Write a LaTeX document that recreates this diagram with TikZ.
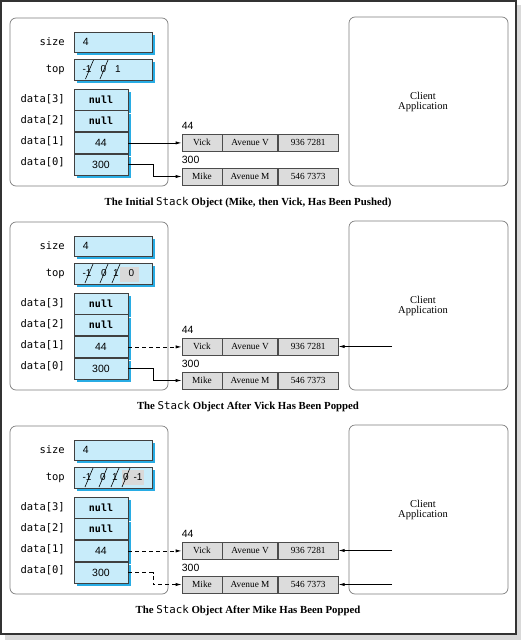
\documentclass[tikz,border=0pt]{standalone}
\usepackage{fontspec}
\setmainfont{Liberation Serif}
\setsansfont{Liberation Sans}
\setmonofont{DejaVu Sans Mono}
\usetikzlibrary{positioning,arrows.meta,shadows}
\definecolor{cellblue}{RGB}{200,236,250}
\definecolor{shadeblue}{RGB}{40,172,228}
\definecolor{recgrey}{RGB}{220,220,220}
\definecolor{framegrey}{RGB}{125,125,125}
\tikzset{>={Latex[length=6pt,width=3.2pt]}}
\tikzset{
  cell/.style={draw=black!75, fill=cellblue, line width=0.7pt, inner sep=0pt,
    drop shadow={shadow xshift=3pt, shadow yshift=-3pt, fill=shadeblue, opacity=1},
    font=\sffamily\fontsize{10.5}{12}\selectfont},
  nullval/.style={font=\ttfamily\bfseries\fontsize{10}{12}\selectfont},
  lbl/.style={anchor=east, inner sep=0pt, font=\ttfamily\fontsize{10.5}{12}\selectfont},
  val/.style={inner sep=0pt, font=\sffamily\fontsize{10.5}{12}\selectfont},
  topval/.style={inner sep=0pt, font=\sffamily\fontsize{10}{12}\selectfont},
  rec/.style={draw=black!70, fill=recgrey, line width=0.6pt, minimum height=17pt,
    inner sep=0pt, font=\fontsize{9.3}{11}\selectfont},
  panel/.style={draw=framegrey, line width=0.7pt, rounded corners=6pt},
  client/.style={align=center, font=\fontsize{10.5}{10}\selectfont},
  caption/.style={font=\bfseries\fontsize{10.8}{12}\selectfont},
  ptr/.style={->, line width=0.8pt},
  dptr/.style={ptr, dash pattern=on 4pt off 3pt},
  hilite/.style={fill=black!15},
}

\begin{document}
\begin{tikzpicture}[x=1pt,y=-1pt]
\useasboundingbox (0,0) rectangle (521,640);
% frame round everything
\fill[black!15] (5,634) rectangle (521,640);
\fill[black!15] (516,5) rectangle (521,640);
\draw[black!80, line width=1.2pt] (1,1) rectangle (516,634);

% parts that every panel has
\foreach \i/\off in {1/0,2/204,3/408}{
  \draw[panel] (10,18+\off) rectangle (168,186+\off);
  \draw[panel] (349,17+\off) rectangle (508,186+\off);
  \node[client] (client\i) at (423,102+\off) {Client\\Application};
  % size and top
  \node[cell, minimum width=78pt, minimum height=20pt] (size\i) at (113,42+\off) {};
  \node[val, right=9pt of size\i.west] (sizev\i) {4};
  \node[lbl] (lsize\i) at (65,42+\off) {size};
  \node[cell, minimum width=78pt, minimum height=21pt] (top\i) at (113,69.5+\off) {};
  \node[lbl] (ltop\i) at (65,69.5+\off) {top};
  % the array
  \node[cell, minimum width=54pt, minimum height=21pt] (d3\i) at (101,99.5+\off) {};
  \node[cell, minimum width=54pt, minimum height=21pt, below=0pt of d3\i] (d2\i) {};
  \node[cell, minimum width=54pt, minimum height=21pt, below=0pt of d2\i] (d1\i) {44};
  \node[cell, minimum width=54pt, minimum height=21pt, below=0pt of d1\i] (d0\i) {300};
  \node[nullval] at (d3\i) {null};
  \node[nullval] at (d2\i) {null};
  \foreach \k in {3,2,1,0}
    \node[lbl] (ld\k\i) at (65,{162.5-21*\k+\off}) {data[\k]};
  % the two records
  \node[rec, minimum width=40pt] (vn\i) at (202,142.5+\off) {Vick};
  \node[rec, minimum width=55pt, right=0pt of vn\i] (va\i) {Avenue V};
  \node[rec, minimum width=60pt, right=0pt of va\i] (vp\i) {936 7281};
  \node[rec, minimum width=40pt] (mn\i) at (202,176.5+\off) {Mike};
  \node[rec, minimum width=55pt, right=0pt of mn\i] (ma\i) {Avenue M};
  \node[rec, minimum width=60pt, right=0pt of ma\i] (mp\i) {546 7373};
  \node[val, anchor=south west] (vaddr\i) at ([yshift=4pt]vn\i.north west) {44};
  \node[val, anchor=south west] (maddr\i) at ([yshift=4pt]mn\i.north west) {300};
  \coordinate (cv\i) at (392,142.5+\off);
  \coordinate (cm\i) at (392,176.5+\off);
}

% values of top
\fill[hilite] (119.5,267) rectangle (139,282);
\fill[hilite] (121.5,470) rectangle (144,485);
\foreach \x/\v in {87/-1,103.5/0,118/1}
  \node[topval] at (\x,69.5) {\v};
\foreach \x/\v in {87/-1,104/0,116/1,131.5/0}
  \node[topval] at (\x,273.5) {\v};
\foreach \x/\v in {87/-1,103/0,115/1,126/0,138/-1}
  \node[topval] at (\x,477.5) {\v};
\foreach \x in {89.5,104}
  \draw[line width=0.6pt] (\x-4,79) -- (\x+4,60);
\foreach \x in {89,104,116}
  \draw[line width=0.6pt] (\x-4,283) -- (\x+4,264);
\foreach \x in {89,103,115,126}
  \draw[line width=0.6pt] (\x-4,487) -- (\x+4,468);

% pointers
\draw[ptr] (d11.east) -- (d11.east -| vn1.west);
\draw[ptr] (d01.east) -- ++(24.7,0) |- (mn1.west);
\draw[dptr] (d12.east) -- (d12.east -| vn2.west);
\draw[ptr] (d02.east) -- ++(24.7,0) |- (mn2.west);
\draw[ptr] (cv2) -- (vp2.east);
\draw[dptr] (d13.east) -- (d13.east -| vn3.west);
\draw[dptr] (d03.east) -- ++(24.7,0) |- (mn3.west);
\draw[ptr] (cv3) -- (vp3.east);
\draw[ptr] (cm3) -- (mp3.east);

% captions
\node[caption] (cap1) at (248,203) {The Initial \texttt{\mdseries Stack} Object (Mike, then Vick, Has Been Pushed)};
\node[caption] (cap2) at (248,407) {The \texttt{\mdseries Stack} Object After Vick Has Been Popped};
\node[caption] (cap3) at (248,611) {The \texttt{\mdseries Stack} Object After Mike Has Been Popped};
\end{tikzpicture}
\end{document}
